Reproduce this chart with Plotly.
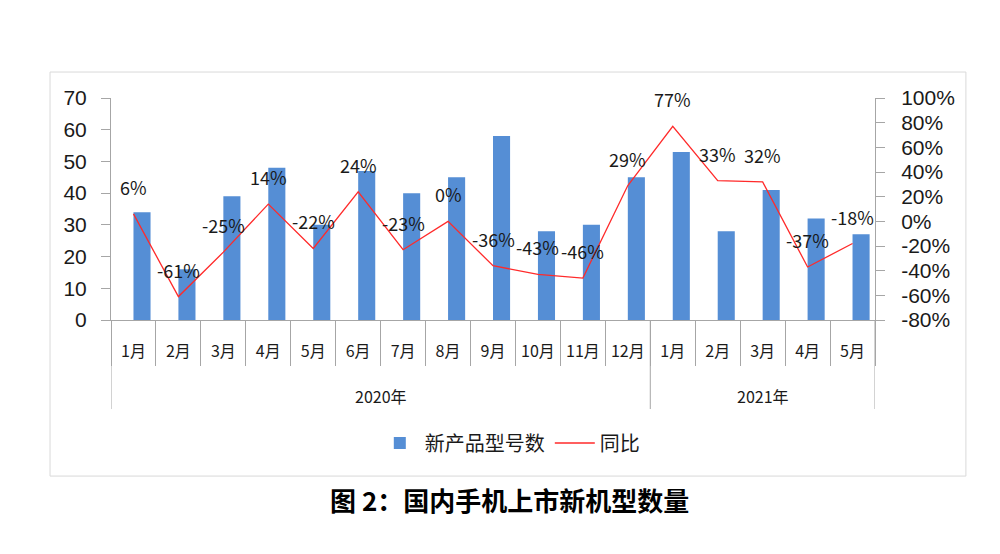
import plotly.graph_objects as go

years = ["2020年"] * 12 + ["2021年"] * 5
months = ["1月", "2月", "3月", "4月", "5月", "6月", "7月", "8月", "9月", "10月", "11月", "12月",
          "1月", "2月", "3月", "4月", "5月"]
new_models = [34, 16, 39, 48, 30, 47, 40, 45, 58, 28, 30, 45, 53, 28, 41, 32, 27]
yoy_pct = [6, -61, -25, 14, -22, 24, -23, 0, -36, -43, -46, 29, 77, 33, 32, -37, -18]

left_ticks = [0, 10, 20, 30, 40, 50, 60, 70]
right_tickvals = [-0.8, -0.6, -0.4, -0.2, 0, 0.2, 0.4, 0.6, 0.8, 1.0]
right_ticktext = ["-80%", "-60%", "-40%", "-20%", "0%", "20%", "40%", "60%", "80%", "100%"]

FONT = "Noto Sans CJK SC"
NUMFONT = "Liberation Sans"
AXIS = "#A6A6A6"
TXT = "#1a1a1a"

idx = list(range(len(months)))

fig = go.Figure()
fig.add_trace(go.Bar(
    x=idx, y=new_models, name="新产品型号数",
    marker=dict(color="#558ED5", line=dict(width=0)),
    width=0.38, offset=0,
))
fig.add_trace(go.Scatter(
    x=idx, y=[v / 100 for v in yoy_pct], name="同比",
    mode="lines", line=dict(color="#FF2A2A", width=1.3), yaxis="y2",
))

for i, v in enumerate(yoy_pct):
    fig.add_annotation(x=i, y=v / 100, xref="x", yref="y2", text=f"{v}%",
                       showarrow=False, yshift=27,
                       font=dict(family=FONT, size=18, color=TXT))

# year groups: labels and dividers
groups = []
for i, y in enumerate(years):
    if not groups or groups[-1][0] != y:
        groups.append([y, i, i])
    else:
        groups[-1][2] = i
bounds = set()
for name, a, b in groups:
    fig.add_annotation(x=(a + b) / 2, y=-0.342, xref="x", yref="paper", text=name,
                       showarrow=False, yanchor="middle",
                       font=dict(family=FONT, size=16, color=TXT))
    bounds.add(a - 0.5)
    bounds.add(b + 0.5)
for xb in sorted(bounds):
    fig.add_shape(type="line", xref="x", yref="paper", x0=xb, x1=xb, y0=0, y1=-0.401,
                  line=dict(color=AXIS, width=1))

fig.add_annotation(x=0.522, y=-0.81, xref="paper", yref="paper", yanchor="middle",
                   text="<b>图 2：国内手机上市新机型数量</b>", showarrow=False,
                   font=dict(family=FONT, size=26, color="#000000"))

fig.add_shape(type="rect", xref="paper", yref="paper",
              x0=-0.0798, x1=1.119, y0=-0.703, y1=1.117,
              line=dict(color="#D9D9D9", width=1), layer="below")

fig.update_layout(
    width=1000, height=554,
    margin=dict(l=111, r=125, t=98, b=234),
    paper_bgcolor="white", plot_bgcolor="white",
    font=dict(family=FONT, color=TXT),
    showlegend=True,
    legend=dict(orientation="h", x=0.522, xanchor="center", y=-0.554, yanchor="middle",
                font=dict(family=FONT, size=20), itemwidth=40, bgcolor="rgba(0,0,0,0)"),
    xaxis=dict(range=[-0.5, len(months) - 0.5], tickmode="array", tickvals=idx,
               ticktext=months, ticks="", showline=True, linecolor=AXIS, linewidth=1,
               tickfont=dict(family=FONT, size=16), showgrid=False, zeroline=False,
               ticklabelstandoff=17,
               minor=dict(tickmode="array", tickvals=[i - 0.5 for i in range(len(months) + 1)],
                          ticks="outside", ticklen=45, tickcolor=AXIS, tickwidth=1,
                          showgrid=False)),
    yaxis=dict(range=[0, 70], tickvals=left_ticks, showline=True, linecolor=AXIS,
               ticks="outside", ticklen=9, tickcolor=AXIS, showgrid=False,
               zeroline=False, tickfont=dict(family=NUMFONT, size=21),
               ticklabelstandoff=10),
    yaxis2=dict(range=[-0.8, 1.0], overlaying="y", side="right",
                tickvals=right_tickvals, ticktext=right_ticktext,
                showline=True, linecolor=AXIS, ticks="outside", ticklen=9,
                tickcolor=AXIS, showgrid=False, zeroline=False,
                tickfont=dict(family=NUMFONT, size=21), ticklabelstandoff=12),
)

fig.write_html("out.html")
